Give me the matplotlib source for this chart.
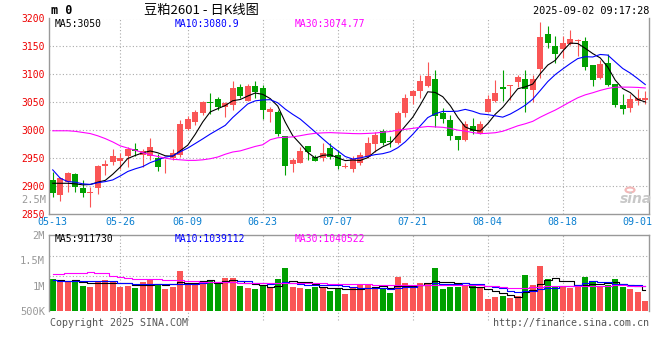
import numpy as np
import matplotlib
matplotlib.use('Agg')
import matplotlib.pyplot as plt
from matplotlib.patches import Circle

# ---- data (豆粕2601 daily, 80 sessions) ----
opens = [2911, 2884, 2908, 2922, 2897, 2888, 2896, 2936, 2943, 2945,
         2953, 2966, 2956, 2953, 2950, 2939, 2950, 2956, 3003, 3015,
         3031, 3051, 3056, 3042, 3045, 3077, 3053, 3080, 3076, 3033,
         3033, 2989, 2940, 2942, 2971, 2952, 2951, 2968, 2956, 2935,
         2930, 2941, 2952, 2976, 2998, 2981, 2977, 3031, 3062, 3070,
         3079, 3092, 3030, 3018, 2990, 2983, 3008, 2995, 3033, 3052,
         3077, 3079, 3087, 3092, 3072, 3110, 3172, 3151, 3145, 3154,
         3159, 3160, 3117, 3093, 3121, 3083, 3045, 3039, 3052, 3054]
highs = [2925, 2916, 2925, 2924, 2911, 2898, 2938, 2947, 2967, 2959,
         2970, 2977, 2967, 2986, 2958, 2949, 2967, 3018, 3025, 3037,
         3053, 3066, 3059, 3050, 3088, 3082, 3082, 3089, 3081, 3041,
         3036, 2990, 2950, 2970, 2972, 2956, 2977, 2977, 2964, 2942,
         2953, 2961, 2987, 2997, 3002, 2990, 3035, 3064, 3072, 3098,
         3122, 3108, 3039, 3027, 2990, 3017, 3022, 3017, 3063, 3090,
         3108, 3081, 3099, 3108, 3098, 3193, 3187, 3168, 3169, 3179,
         3164, 3166, 3117, 3126, 3136, 3083, 3064, 3065, 3074, 3070]
lows = [2881, 2874, 2889, 2890, 2880, 2862, 2885, 2920, 2938, 2930,
        2935, 2953, 2934, 2947, 2927, 2923, 2947, 2952, 3001, 3010,
        3028, 3029, 3037, 3023, 3037, 3058, 3053, 3058, 3020, 3014,
        2989, 2920, 2925, 2942, 2947, 2944, 2945, 2949, 2930, 2933,
        2925, 2938, 2950, 2961, 2973, 2970, 2975, 3023, 3047, 3057,
        3078, 3005, 3013, 2983, 2964, 2980, 2993, 2993, 3032, 3051,
        3052, 3054, 3077, 3033, 3050, 3093, 3148, 3120, 3129, 3152,
        3132, 3108, 3080, 3092, 3080, 3041, 3029, 3032, 3045, 3047]
closes = [2887, 2915, 2923, 2899, 2887, 2890, 2936, 2939, 2954, 2951,
          2967, 2963, 2963, 2970, 2935, 2940, 2959, 3012, 3020, 3033,
          3050, 3049, 3041, 3048, 3076, 3061, 3080, 3068, 3036, 3038,
          2994, 2936, 2947, 2963, 2961, 2944, 2960, 2952, 2936, 2936,
          2949, 2956, 2978, 2991, 2978, 2979, 3031, 3058, 3070, 3088,
          3097, 3025, 3020, 2990, 2983, 3011, 2998, 3011, 3056, 3067,
          3073, 3080, 3095, 3073, 3092, 3166, 3157, 3137, 3157, 3163,
          3162, 3114, 3090, 3118, 3081, 3045, 3038, 3055, 3057, 3058]
volumes = [1131000, 1078000, 1066000, 1111000, 993000, 980000, 1092000, 1111000, 1066000, 980000,
           993000, 954000, 1072000, 1105000, 1033000, 940000, 980000, 1295000, 1026000, 1026000,
           1092000, 1111000, 1046000, 1151000, 1151000, 993000, 954000, 934000, 1013000, 948000,
           1131000, 1348000, 980000, 960000, 934000, 980000, 980000, 894000, 934000, 835000,
           980000, 1013000, 1013000, 980000, 948000, 855000, 1171000, 1052000, 980000, 1052000,
           1052000, 1348000, 934000, 980000, 967000, 987000, 987000, 960000, 737000, 782000,
           802000, 762000, 790000, 1210000, 1013000, 1388000, 1131000, 980000, 980000, 948000,
           980000, 1171000, 1092000, 980000, 1013000, 1131000, 980000, 934000, 875000, 697000]

# moving-average values at the left edge (window reaches before the first bar)
ma5_head = [2905, 2905, 2905, 2904]
ma10_head = [2929, 2914, 2908, 2907, 2904, 2903, 2906, 2908, 2911]
ma30_head = [2999, 2999, 2999, 2998, 2996, 2994, 2990, 2985, 2979, 2972,
             2968, 2964, 2960, 2956, 2953, 2950, 2948, 2947, 2946, 2946,
             2947, 2949, 2952, 2957, 2961, 2963, 2967, 2971, 2974]
vma5_head = [1110000, 1105000, 1100000, 1115000]
vma10_head = [1105000, 1100000, 1095000, 1090000, 1090000, 1085000, 1085000, 1085000, 1085000]
vma30_head = [1224000, 1224000, 1243000, 1243000, 1243000, 1263000, 1250000, 1243000, 1200000, 1178000,
              1160000, 1131000, 1131000, 1131000, 1131000, 1111000, 1111000, 1111000, 1092000, 1092000,
              1075000, 1070000, 1070000, 1070000, 1070000, 1050000, 1050000, 1050000, 1050000]

tick_idx = [0, 9, 18, 28, 38, 48, 58, 68, 78]
tick_labels = ['05-13', '05-26', '06-09', '06-23', '07-07', '07-21', '08-04', '08-18', '09-01']
price_ticks = [2850, 2900, 2950, 3000, 3050, 3100, 3150, 3200]
vol_ticks = [500000, 1000000, 1500000, 2000000]
vol_tick_labels = ['500K', '1M', '1.5M', '2M']

RED = '#fa5555'
GREEN = '#00a000'
GRID = '#aaaaaa'
BORDER = '#999999'
MONO = 'DejaVu Sans Mono'
W, H = 660, 360


def rect(l, t, r, b):
    return [l / W, 1 - b / H, (r - l) / W, (b - t) / H]


def moving_avg(vals, n, head):
    vals = np.asarray(vals, dtype=float)
    out = np.empty(len(vals))
    out[:n - 1] = head
    for i in range(n - 1, len(vals)):
        out[i] = vals[i - n + 1:i + 1].mean()
    return out


def ftext(x, y, s, **kw):
    fig.text(x / W, 1 - y / H, s, **kw)


o, h, l, c = map(np.asarray, (opens, highs, lows, closes))
x = np.arange(len(c))
up = c >= o
cols = np.where(up, RED, GREEN)

fig = plt.figure(figsize=(6.6, 3.6), dpi=100)
fig.patch.set_facecolor('white')

# ---- price panel ----
ax = fig.add_axes(rect(49, 18.5, 649, 214))
ax.set_xlim(-0.5, len(c) - 0.5)
ax.set_ylim(2850, 3200)
for p in price_ticks[1:]:
    ax.axhline(p, color=GRID, lw=0.8, ls=(0, (1, 2)), zorder=0)
for t in tick_idx[1:-1]:
    ax.axvline(t, color=GRID, lw=0.8, ls=(0, (1, 2)), zorder=0)

ax.vlines(x, l, h, colors=cols, lw=0.8, zorder=2)
body = np.maximum(np.abs(c - o), 1.2)
ax.bar(x, body, bottom=np.minimum(o, c), width=0.74, color=cols, lw=0, zorder=3)

ax.plot(x, moving_avg(c, 5, ma5_head), color='black', lw=0.8, zorder=4)
ax.plot(x, moving_avg(c, 10, ma10_head), color='#0000ff', lw=0.8, zorder=4)
ax.plot(x, moving_avg(c, 30, ma30_head), color='#ff00ff', lw=0.8, zorder=4)

ax.set_yticks(price_ticks)
ax.set_yticklabels([str(p) for p in price_ticks], color='#ee0000',
                   fontsize=7, family=MONO)
ax.set_xticks(tick_idx)
ax.set_xticklabels(tick_labels, color='#0a7fd0', fontsize=7.2, family=MONO)
ax.tick_params(length=0, pad=2.5)
ax.tick_params(axis='y', pad=3)
for s in ('left', 'right', 'bottom'):
    ax.spines[s].set_color(BORDER)
    ax.spines[s].set_linewidth(1)
ax.spines['top'].set_visible(False)

# sina watermark
fig.patches.append(Circle((630 / W, 1 - 190 / H), 4.5 / W, transform=fig.transFigure,
                          facecolor='none', edgecolor='#f2b8b8', lw=1.5))
ftext(636, 199, 'sina', fontsize=10, style='italic', weight='bold',
      color='#c8c8c8', ha='center', va='center')

# ---- volume panel ----
vx = fig.add_axes(rect(49, 235, 649, 311))
vx.set_xlim(-0.5, len(c) - 0.5)
vx.set_ylim(500000, 2000000)
for g in (1196000, 1591000):
    vx.axhline(g, color=GRID, lw=0.8, ls=(0, (1, 2)), zorder=0)
for t in tick_idx[1:-1]:
    vx.axvline(t, ymin=-0.12, ymax=1, color=GRID, lw=0.8, ls=(0, (1, 2)),
               zorder=0, clip_on=False)
v = np.asarray(volumes, dtype=float)
vx.bar(x, v - 500000, bottom=500000, width=0.74, color=cols, lw=0, zorder=2)
vx.plot(x, moving_avg(v, 5, vma5_head), color='black', lw=0.8,
        drawstyle='steps-mid', zorder=3)
vx.plot(x, moving_avg(v, 10, vma10_head), color='#0000ff', lw=0.8,
        drawstyle='steps-mid', zorder=3)
vx.plot(x, moving_avg(v, 30, vma30_head), color='#ff00ff', lw=0.8,
        drawstyle='steps-mid', zorder=3)
vx.set_yticks(vol_ticks)
vx.set_yticklabels(vol_tick_labels, color='#999999', fontsize=7.5, family=MONO)
vx.set_xticks([])
vx.tick_params(length=0, pad=3)
for s in ('left', 'right', 'top'):
    vx.spines[s].set_color(BORDER)
    vx.spines[s].set_linewidth(1)
vx.spines['bottom'].set_visible(False)

# ---- texts ----
ftext(51, 11, 'm 0', fontsize=8.5, weight='bold', family=MONO, va='center')
ftext(201, 10, '豆粕2601 - 日K线图', fontsize=9.5, ha='center', va='center',
      family=['Noto Sans CJK SC', 'DejaVu Sans'])
ftext(649, 11.5, '2025-09-02 09:17:28', fontsize=7.4, ha='right', va='center', family=MONO)

ftext(55, 24, 'MA5:3050', fontsize=7, color='black', va='center', family=MONO)
ftext(175, 24, 'MA10:3080.9', fontsize=7, color='#0000ff', va='center', family=MONO)
ftext(295, 24, 'MA30:3074.77', fontsize=7, color='#ff00ff', va='center', family=MONO)

ftext(55, 239.5, 'MA5:911730', fontsize=7, color='black', va='center', family=MONO)
ftext(175, 239.5, 'MA10:1039112', fontsize=7, color='#0000ff', va='center', family=MONO)
ftext(295, 239.5, 'MA30:1040522', fontsize=7, color='#ff00ff', va='center', family=MONO)

ftext(46, 200, '2.5M', fontsize=7.5, color='#999999', ha='right', va='center', family=MONO)

ftext(50, 323.5, 'Copyright 2025 SINA.COM', fontsize=7.2, color='#555555',
      va='center', family=MONO)
ftext(649, 323.5, 'http://finance.sina.com.cn', fontsize=7.2, color='#555555',
      ha='right', va='center', family=MONO)

fig.savefig('out.png', dpi=100, facecolor='white')
